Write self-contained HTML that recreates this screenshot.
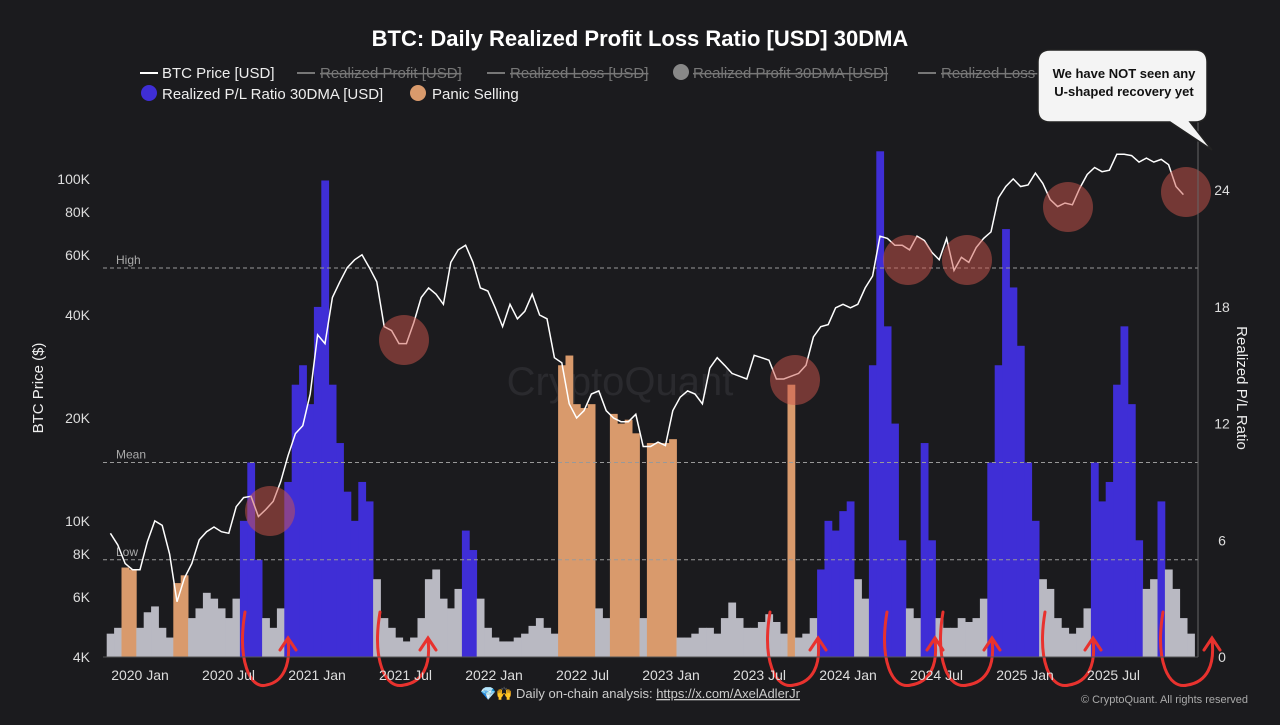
<!DOCTYPE html>
<html><head><meta charset="utf-8">
<style>
body{margin:0;background:#1b1b1e;width:1280px;height:720px;overflow:hidden;font-family:"Liberation Sans",sans-serif;}
svg text{font-family:"Liberation Sans","Noto Sans CJK SC",sans-serif;}
</style></head>
<body>
<svg id="chart" width="1280" height="720" xmlns="http://www.w3.org/2000/svg">
<rect width="1280" height="720" fill="#1b1b1e"/>
<text x="640" y="46" text-anchor="middle" fill="#fff" font-size="22" font-weight="bold">BTC: Daily Realized Profit Loss Ratio [USD] 30DMA</text>
<g id="legend" font-size="15">
 <g><line x1="140" y1="73" x2="158" y2="73" stroke="#fff" stroke-width="2"/><text x="162" y="78" fill="#eee">BTC Price [USD]</text></g>
 <g><line x1="297" y1="73" x2="315" y2="73" stroke="#777" stroke-width="2"/><text x="320" y="78" fill="#777" text-decoration="line-through">Realized Profit [USD]</text></g>
 <g><line x1="487" y1="73" x2="505" y2="73" stroke="#777" stroke-width="2"/><text x="510" y="78" fill="#777" text-decoration="line-through">Realized Loss [USD]</text></g>
 <g><circle cx="681" cy="72" r="8" fill="#888"/><text x="693" y="78" fill="#777" text-decoration="line-through">Realized Profit 30DMA [USD]</text></g>
 <g><line x1="918" y1="73" x2="936" y2="73" stroke="#777" stroke-width="2"/><text x="941" y="78" fill="#777" text-decoration="line-through">Realized Loss 30DMA [USD]</text></g>
 <g><circle cx="149" cy="93" r="8" fill="#3f2ed6"/><text x="162" y="99" fill="#eee">Realized P/L Ratio 30DMA [USD]</text></g>
 <g><circle cx="418" cy="93" r="8" fill="#d99a6c"/><text x="432" y="99" fill="#eee">Panic Selling</text></g>
</g>
<text x="620" y="395" text-anchor="middle" fill="#2a2a2e" font-size="40">CryptoQuant</text>
<g id="bars"></g>
<g id="refs"></g>
<path id="price" fill="none" stroke="#fff" stroke-width="1.5"/>
<g id="marks"></g>
<line x1="1198" y1="120" x2="1198" y2="657" stroke="#666"/>
<line x1="103" y1="657" x2="1198" y2="657" stroke="#555"/>
<g id="axes" font-size="14" fill="#ddd"></g>
<text transform="translate(43,388) rotate(-90)" text-anchor="middle" fill="#eee" font-size="15">BTC Price ($)</text>
<text transform="translate(1237,388) rotate(90)" text-anchor="middle" fill="#eee" font-size="15">Realized P/L Ratio</text>
<g>
 <path d="M1050,50 H1195 Q1207,50 1207,62 V110 Q1207,122 1195,122 H1190 L1212,150 L1170,122 H1050 Q1038,122 1038,110 V62 Q1038,50 1050,50 Z" fill="#f4f4f4" stroke="#222" stroke-width="1.5"/>
 <text x="1124" y="78" text-anchor="middle" font-size="13" font-weight="bold" fill="#111">We have NOT seen any</text>
 <text x="1124" y="96" text-anchor="middle" font-size="13" font-weight="bold" fill="#111">U-shaped recovery yet</text>
</g>
<text x="640" y="698" text-anchor="middle" fill="#ccc" font-size="13">💎🙌 Daily on-chain analysis: <tspan text-decoration="underline">https://x.com/AxelAdlerJr</tspan></text>
<text x="1248" y="703" text-anchor="end" fill="#aaa" font-size="11">© CryptoQuant. All rights reserved</text>
</svg>
<script>
const prices=[9200,8500,7500,7200,7200,8700,10000,9700,8000,5800,6800,7500,8800,9300,9600,9300,9200,11000,11700,11800,10300,10800,11400,13000,15500,18000,19000,23500,
35000,33000,45000,50000,55000,58000,60000,55000,50000,37000,36000,33000,33000,38000,45000,48000,46000,43000,57000,62000,64000,57000,48000,47000,
42000,37000,43000,39000,41000,46000,40000,39000,30000,29000,22000,20000,21000,23500,24000,21000,20000,19500,19500,20500,16500,16500,17000,16600,
21000,23000,24000,23500,22000,28000,30000,28500,27000,26500,26000,30500,30000,29500,26000,26000,26500,27000,28500,34500,37000,37500,42000,43000,
42000,43000,48000,52000,68000,67000,64000,64000,62000,68000,66000,61000,58000,67000,54000,59000,57000,63000,67000,70000,88000,95000,100000,95000,
96000,104000,97000,87000,83000,85000,84000,94000,103000,108000,105000,106000,118000,118000,117000,112000,115000,112000,114000,110000,95000,90000];
const ratios=[1.2,1.5,4.6,4.5,1.5,2.3,2.6,1.5,1.0,3.8,4.2,2.0,2.5,3.3,3.0,2.5,2.0,3.0,7.0,10.0,5.0,2.0,1.5,2.5,9.0,14.0,15.0,13.0,18.0,24.5,14.0,11.0,8.5,7.0,9.0,8.0,4.0,2.0,1.5,1.0,0.8,1.0,2.0,4.0,4.5,3.0,2.5,3.5,6.5,5.5,3.0,1.5,1.0,0.8,0.8,1.0,1.2,1.6,2.0,1.5,1.2,15.0,15.5,13.0,12.8,13.0,2.5,2.0,12.5,12.0,12.2,11.5,2.0,11.0,11.0,11.0,11.2,1.0,1.0,1.2,1.5,1.5,1.2,2.0,2.8,2.0,1.5,1.5,1.8,2.2,1.8,1.2,14.0,1.0,1.2,2.0,4.5,7.0,6.5,7.5,8.0,4.0,3.0,15.0,26.0,17.0,12.0,6.0,2.5,2.0,11.0,6.0,2.0,1.5,1.5,2.0,1.8,2.0,3.0,10.0,15.0,22.0,19.0,16.0,10.0,7.0,4.0,3.5,2.0,1.5,1.2,1.5,2.5,10.0,8.0,9.0,14.0,17.0,13.0,6.0,3.5,4.0,8.0,4.5,3.5,2.0,1.2];
const stateRuns=[["g",2],["o",2],["g",5],["o",2],["g",7],["b",3],["g",3],["b",12],["g",12],["b",2],["g",11],["o",5],["g",2],["o",4],["g",1],["o",4],["g",15],["o",1],["g",3],["b",5],["g",2],["b",5],["g",2],["b",2],["g",7],["b",7],["g",7],["b",7],["g",2],["b",1],["g",4]];
const xLabels=["2020 Jan","2020 Jul","2021 Jan","2021 Jul","2022 Jan","2022 Jul","2023 Jan","2023 Jul","2024 Jan","2024 Jul","2025 Jan","2025 Jul"];
const leftTicks=[4000,6000,8000,10000,20000,40000,60000,80000,100000];
const leftTickLabels=["4K","6K","8K","10K","20K","40K","60K","80K","100K"];
const rightTicks=[0,6,12,18,24];
const refValues=[5,10,20];const refNames=["Low","Mean","High"];
const NS="http://www.w3.org/2000/svg";
const states=[];stateRuns.forEach(r=>{for(let k=0;k<r[1];k++)states.push(r[0]);});
const W=7.4;
const xi=i=>110.4+i*W;
const yP=v=>657-Math.log10(v/4000)*342;
const yR=v=>657-v*19.45;
const xMonth=k=>140+k*88.5;
const colors={g:"#b9b9c2",b:"#3f2ed6",o:"#d99a6c"};
const bars=document.getElementById('bars');
ratios.forEach((r,i)=>{
 const st=states[i]||'g';
 const el=document.createElementNS(NS,'rect');
 el.setAttribute('x',xi(i)-W/2);el.setAttribute('width',W+0.4);
 el.setAttribute('y',yR(r));el.setAttribute('height',657-yR(r));
 el.setAttribute('fill',colors[st]);
 
 
 bars.appendChild(el);
});
let d="";prices.forEach((p,i)=>{d+=(i?"L":"M")+xi(i).toFixed(1)+","+yP(p).toFixed(1);});
document.getElementById('price').setAttribute('d',d);
const refs=document.getElementById('refs');
refValues.forEach((v,k)=>{
 const l=document.createElementNS(NS,'line');
 l.setAttribute('x1',103);l.setAttribute('x2',1198);l.setAttribute('y1',yR(v));l.setAttribute('y2',yR(v));
 l.setAttribute('stroke','#999');l.setAttribute('stroke-dasharray','4,3');
 
 
 refs.appendChild(l);
 const t=document.createElementNS(NS,'text');
 t.setAttribute('x',116);t.setAttribute('y',yR(v)-4);t.setAttribute('fill','#aaa');t.setAttribute('font-size','12');
 t.textContent=refNames[k];
 
 
 refs.appendChild(t);
});
const axes=document.getElementById('axes');
function txt(x,y,s,anchor,name){const t=document.createElementNS(NS,'text');t.setAttribute('x',x);t.setAttribute('y',y);t.setAttribute('text-anchor',anchor);t.textContent=s;
 
 
 axes.appendChild(t);}
leftTicks.forEach((v,k)=>txt(90,yP(v)+5,leftTickLabels[k],'end','left-tick-label'));
rightTicks.forEach(v=>txt(1222,yR(v)+5,String(v),'middle','right-tick-label'));
xLabels.forEach((s,k)=>txt(xMonth(k),680,s,'middle','x-tick-label'));
const marks=document.getElementById('marks');
const circles=[[270,511],[404,340],[795,380],[908,260],[967,260],[1068,207],[1186,192]];
circles.forEach(c=>{const e=document.createElementNS(NS,'circle');e.setAttribute('cx',c[0]);e.setAttribute('cy',c[1]);e.setAttribute('r',25);e.setAttribute('fill','rgba(205,85,75,0.5)');
 
 
 marks.appendChild(e);});
const arrows=[[245,288],[380,428],[770,818],[887,935],[943,992],[1045,1093],[1163,1212]];
arrows.forEach(a=>{const g=document.createElementNS(NS,'path');const m=(a[0]+a[1])/2;
 g.setAttribute('d',`M${a[0]},612 C${a[0]-8},660 ${a[0]+5},690 ${m},685 C${a[1]-5},682 ${a[1]+3},665 ${a[1]},640 M${a[1]-8},650 L${a[1]},638 L${a[1]+8},650`);
 g.setAttribute('fill','none');g.setAttribute('stroke','#e8322e');g.setAttribute('stroke-width','3');g.setAttribute('stroke-linecap','round');
 
 
 marks.appendChild(g);});
</script>
</body></html>
